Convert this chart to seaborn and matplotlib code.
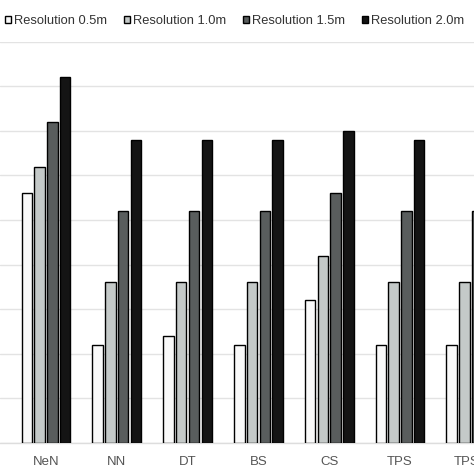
import matplotlib
matplotlib.use("Agg")
import matplotlib.pyplot as plt
import seaborn as sns
import pandas as pd

methods = ["NeN", "NN", "DT", "BS", "CS", "TPS", "TPST"]
resolutions = ["Resolution 0.5m", "Resolution 1.0m", "Resolution 1.5m", "Resolution 2.0m"]
res_05 = [5.6, 2.2, 2.4, 2.2, 3.2, 2.2, 2.2]
res_10 = [6.2, 3.6, 3.6, 3.6, 4.2, 3.6, 3.6]
res_15 = [7.2, 5.2, 5.2, 5.2, 5.6, 5.2, 5.2]
res_20 = [8.2, 6.8, 6.8, 6.8, 7.0, 6.8, 6.8]
colors = ["#f9f9f9", "#c3cac8", "#585e5d", "#141414"]

rows = []
for res, vals in zip(resolutions, [res_05, res_10, res_15, res_20]):
    for m, v in zip(methods, vals):
        rows.append({"method": m, "resolution": res, "value": v})
df = pd.DataFrame(rows)

sns.set_theme(style="white")
plt.rcParams["font.family"] = ["Liberation Sans", "DejaVu Sans"]

fig = plt.figure(figsize=(4.74, 4.74), dpi=100)
ax = fig.add_axes([0.0, 0.0654, 1.0, 0.912 - 0.0654])
sns.barplot(data=df, x="method", y="value", hue="resolution", order=methods,
            hue_order=resolutions, palette=colors, width=0.72, gap=0.18,
            edgecolor="black", linewidth=1.0, ax=ax, legend=True, zorder=3)

ax.set_xlim(-0.65, 6.045)
ax.set_ylim(0, 9)
ax.set_yticks(range(0, 10))
ax.yaxis.grid(True, color="#e3e3e3", linewidth=1.0, zorder=0)
ax.set_axisbelow(True)
ax.tick_params(axis="y", left=False, labelleft=False)
ax.tick_params(axis="x", bottom=False, labelsize=9.5, labelcolor="#555555", pad=3)
ax.set_xlabel("")
ax.set_ylabel("")
for s in ["top", "right", "left"]:
    ax.spines[s].set_visible(False)
ax.spines["bottom"].set_color("#dddddd")
ax.spines["bottom"].set_linewidth(1.0)

handles, labels = ax.get_legend_handles_labels()
ax.get_legend().remove()
fig.legend(handles, labels, loc="center left", bbox_to_anchor=(-0.014, 0.956),
           ncol=4, frameon=False, fontsize=9.3, handlelength=0.5, handleheight=0.5,
           handletextpad=0.2, columnspacing=1.3, labelcolor="#333333")

fig.savefig("out.png", dpi=100)
